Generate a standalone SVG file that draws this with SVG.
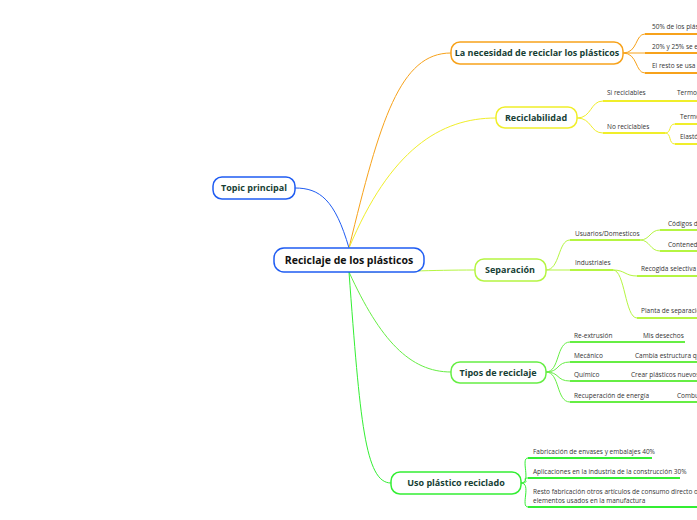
<svg xmlns="http://www.w3.org/2000/svg" width="697" height="520" viewBox="0 0 697 520">
<style>
.n{fill:#fff;stroke-width:1.5}
.t{font-family:"Open Sans","Liberation Sans",sans-serif;font-weight:bold;font-size:9px;fill:#173f35;text-anchor:middle}
.c{font-family:"Open Sans","Liberation Sans",sans-serif;font-size:10.5px;font-weight:bold;fill:#111;text-anchor:middle}
.s{font-family:"Open Sans","Liberation Sans",sans-serif;font-size:6.5px;fill:#333}
.l{fill:none;stroke-width:1}
.u{fill:none;stroke-width:2}
</style>
<rect width="697" height="520" fill="#fff"/>
<g id="connectors">
<path class="l" stroke="#1f5cf2" stroke-width="2" d="M349,248 C335,200 320,188 295,188"/>
<path class="l" stroke="#f7a21b" stroke-width="2" d="M349,248 C380,120 400,53 451,53"/>
<path class="l" stroke="#f0ee2a" stroke-width="1.5" d="M349,248 C390,150 440,118 496,118"/>
<path class="l" stroke="#b5f542" stroke-width="1.5" d="M349,272 C400,272 430,270 475,270"/>
<path class="l" stroke="#66ee44" stroke-width="2" d="M349,272 C380,340 410,372 451,372"/>
<path class="l" stroke="#33ee33" stroke-width="2" d="M349,272 C360,420 365,483 391,483"/>
<g stroke="#f7a21b">
<path class="l" d="M623,53 C638,53 635,34 645,34"/><path class="l" d="M623,53 L645,53"/><path class="l" d="M623,53 C638,53 635,73 645,73"/>
<path class="u" d="M645,34 H697 M645,53 H697 M645,73 H697"/>
</g>
<g stroke="#f0ee2a">
<path class="l" d="M577,118 C592,118 590,101 603,101"/><path class="l" d="M577,118 C592,118 590,133 603,133"/>
<path class="u" d="M603,101 H697 M603,133 H665"/>
<path class="l" d="M665,133 C672,133 668,124 675,124"/><path class="l" d="M665,133 C672,133 668,144 675,144"/>
<path class="u" d="M675,124 H697 M675,144 H697"/>
</g>
<g stroke="#b5f542">
<path class="l" d="M546,270 C560,270 558,240 570,240"/><path class="l" d="M546,270 L570,270"/>
<path class="u" d="M570,240 H640 M570,270 H613"/>
<path class="l" d="M640,240 C650,240 650,230 660,230"/><path class="l" d="M640,240 C650,240 650,251 660,251"/>
<path class="u" d="M660,230 H697 M660,251 H697"/>
<path class="l" d="M613,270 C625,270 625,276 637,276"/><path class="l" d="M613,270 C625,270 625,318 637,318"/>
<path class="u" d="M637,276 H697 M637,318 H697"/>
</g>
<g stroke="#66ee44">
<path class="l" d="M546,372 C560,372 556,342 570,342"/><path class="l" d="M546,372 C560,372 556,362 570,362"/><path class="l" d="M546,372 C560,372 556,381 570,381"/><path class="l" d="M546,372 C560,372 556,402 570,402"/>
<path class="u" d="M570,342 H685 M570,362 H697 M570,381 H697 M570,402 H697"/>
</g>
<g stroke="#33ee33">
<path class="l" d="M521,483 C532,483 520,458 528,458"/><path class="l" d="M521,483 C532,483 520,478 528,478"/><path class="l" d="M521,483 C532,483 520,507 528,507"/>
<path class="u" d="M528,458 H652 M528,478 H680 M528,507 H697"/>
</g>
</g>
<g id="central"><rect class="n" stroke="#1f5cf2" x="274" y="248" width="150" height="24" rx="10"/><text class="c" x="349" y="264">Reciclaje de los plásticos</text></g>
<g id="topic"><rect class="n" stroke="#1f5cf2" x="213" y="177" width="82" height="22" rx="9"/><text class="t" x="254" y="191">Topic principal</text></g>
<g id="necesidad"><rect class="n" stroke="#f7a21b" x="451" y="42" width="172" height="22" rx="9"/><text class="t" x="537" y="56">La necesidad de reciclar los plásticos</text>
<text class="s" x="652" y="29">50% de los plásti</text><text class="s" x="652" y="49">20% y 25% se e</text><text class="s" x="652" y="68">El resto se usa p</text></g>
<g id="reciclabilidad"><rect class="n" stroke="#f0ee2a" x="496" y="107" width="81" height="21" rx="9"/><text class="t" x="536" y="121">Reciclabilidad</text>
<text class="s" x="607" y="95">Si reciclables</text><text class="s" x="677" y="95">Termop</text><text class="s" x="607" y="129">No reciclables</text><text class="s" x="680" y="119">Termo</text><text class="s" x="680" y="139">Elastó</text></g>
<g id="separacion"><rect class="n" stroke="#b5f542" x="475" y="259" width="71" height="22" rx="9"/><text class="t" x="510" y="273">Separación</text>
<text class="s" x="575" y="236">Usuarios/Domesticos</text><text class="s" x="668" y="226">Códigos d</text><text class="s" x="668" y="247">Contenedo</text><text class="s" x="575" y="265">Industriales</text><text class="s" x="641" y="271">Recogida selectiva</text><text class="s" x="641" y="313">Planta de separació</text></g>
<g id="tipos"><rect class="n" stroke="#66ee44" x="451" y="362" width="95" height="21" rx="9"/><text class="t" x="498" y="376">Tipos de reciclaje</text>
<text class="s" x="574" y="338">Re-extrusión</text><text class="s" x="643" y="338">Mis desechos</text><text class="s" x="574" y="358">Mecánico</text><text class="s" x="635" y="358">Cambia estructura quí</text><text class="s" x="574" y="377">Químico</text><text class="s" x="631" y="377">Crear plásticos nuevos</text><text class="s" x="574" y="398">Recuperación de energía</text><text class="s" x="677" y="398">Combu</text></g>
<g id="uso"><rect class="n" stroke="#33ee33" x="391" y="472" width="130" height="22" rx="9"/><text class="t" x="456" y="486">Uso plástico reciclado</text>
<text class="s" x="533" y="454">Fabricación de envases y embalajes 40%</text><text class="s" x="533" y="474">Aplicaciones en la industria de la construcción 30%</text><text class="s" x="533" y="494">Resto fabricación otros artículos de consumo directo o</text><text class="s" x="533" y="503">elementos usados en la manufactura</text></g>
</svg>
